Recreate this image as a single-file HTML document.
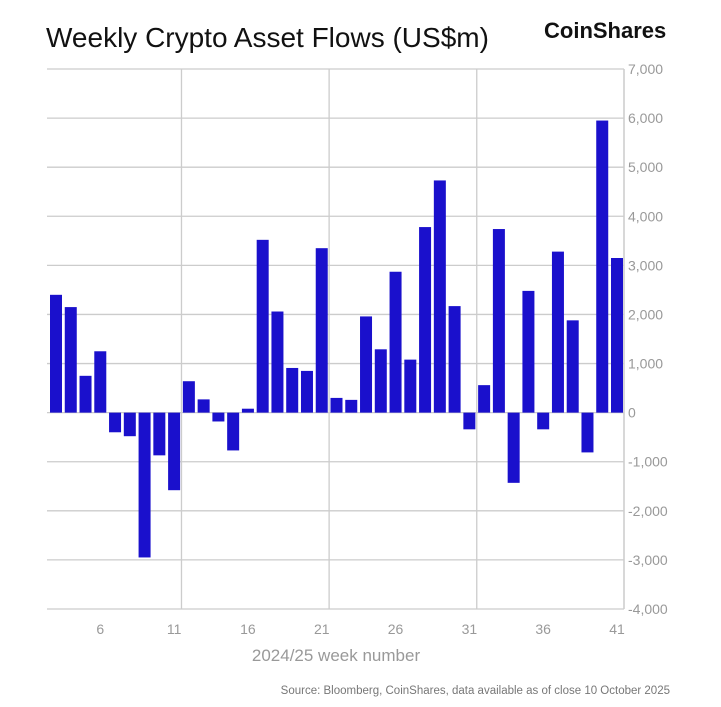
<!DOCTYPE html>
<html><head><meta charset="utf-8"><style>
body{margin:0;background:#fff;width:721px;height:702px;overflow:hidden;font-family:"Liberation Sans",sans-serif}
</style></head><body>
<svg width="721" height="702" viewBox="0 0 721 702">
<text x="46" y="47" font-size="28" fill="#111">Weekly Crypto Asset Flows (US$m)</text>
<text x="544" y="38" font-size="22" font-weight="bold" fill="#111">CoinShares</text>
<g id="grid"></g><g id="bars"></g><g id="axes"></g>
<text x="336" y="661" font-size="17" fill="#999" text-anchor="middle">2024/25 week number</text>
<text x="670" y="694" font-size="11.5" fill="#777" text-anchor="end">Source: Bloomberg, CoinShares, data available as of close 10 October 2025</text>
</svg>
<script>
const weeks=[3,4,5,6,7,8,9,10,11,12,13,14,15,16,17,18,19,20,21,22,23,24,25,26,27,28,29,30,31,32,33,34,35,36,37,38,39,40,41];
const flows=[2400,2150,750,1250,-400,-480,-2950,-870,-1580,640,270,-180,-770,80,3520,2060,910,850,3350,300,260,1960,1290,2870,1080,3780,4730,2170,-340,560,3740,-1430,2480,-340,3280,1880,-810,5950,3150];
const yTicks=[7000,6000,5000,4000,3000,2000,1000,0,-1000,-2000,-3000,-4000];
const xTicks=[6,11,16,21,26,31,36,41];
const vGrid=[11.5,21.5,31.5];
const NS="http://www.w3.org/2000/svg";
const L=47,R=624,T=69,B=609;
const y=v=>T+(7000-v)/11000*(B-T);
const x=w=>56+(w-3)*(617-56)/38;
function mk(p,t,a){const e=document.createElementNS(NS,t);for(const k in a)e.setAttribute(k,a[k]);p.appendChild(e);return e;}
const g=document.getElementById('grid'),b=document.getElementById('bars'),ax=document.getElementById('axes');
yTicks.forEach(v=>{
 const l=mk(g,'line',{x1:L,x2:R,y1:y(v),y2:y(v),stroke:'#ccc','stroke-width':1.3});
 
 
 const t=mk(ax,'text',{x:R+4,y:y(v)+5,'font-size':14,fill:'#999'});
 t.textContent=v.toLocaleString('en-US');
 
 
});
vGrid.forEach(w=>{
 const l=mk(g,'line',{x1:x(w),x2:x(w),y1:T,y2:B,stroke:'#ccc','stroke-width':1.3});
 
 
});
const rl=mk(g,'line',{x1:R,x2:R,y1:T,y2:B,stroke:'#ccc','stroke-width':1.5});


xTicks.forEach(w=>{
 const t=mk(ax,'text',{x:x(w),y:B+25,'font-size':14,fill:'#999','text-anchor':'middle'});
 t.textContent=w;
 
 
});
weeks.forEach((w,i)=>{
 const v=flows[i],y0=y(0),y1=y(v);
 const r=mk(b,'rect',{x:x(w)-6,y:Math.min(y0,y1),width:12,height:Math.abs(y1-y0),fill:'#1a10cc'});
 
 
});
</script>
</body></html>
